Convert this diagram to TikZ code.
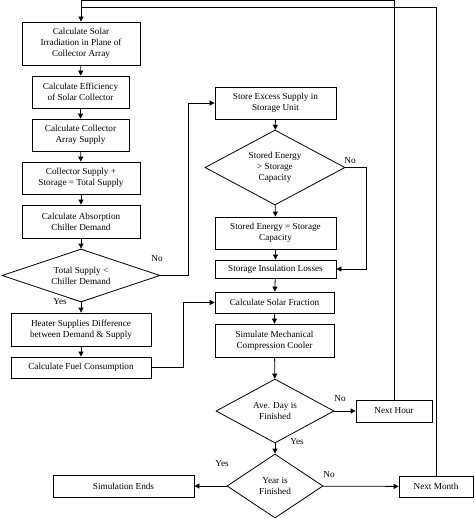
\documentclass[tikz,border=0pt]{standalone}
\usepackage{fontspec}
\setmainfont{Liberation Serif}
\usetikzlibrary{shapes.geometric,arrows.meta}
\begin{document}
\begin{tikzpicture}[x=1pt,y=-1pt,
  every node/.style={font=\fontsize{9.2}{11}\selectfont},
  box/.style={draw,line width=0.8pt,rectangle,inner sep=1pt,align=center,anchor=center},
  dia/.style={draw,line width=0.8pt,diamond,inner sep=0pt,align=center,anchor=center},
  conn/.style={line width=0.8pt,-{Triangle[length=5pt,width=5pt]}},
  plain/.style={line width=0.8pt},
  lbl/.style={inner sep=0pt}]
\useasboundingbox (0,0) rectangle (474,519);
% left column
\node[box,minimum width=118pt,minimum height=43pt] (b1) at (81,43.5) {Calculate Solar\\Irradiation in Plane of\\Collector Array};
\node[box,minimum width=97pt,minimum height=32pt] (b2) at (80.5,92) {Calculate Efficiency\\of Solar Collector};
\node[box,minimum width=97pt,minimum height=32pt] (b3) at (80.5,135) {Calculate Collector\\Array Supply};
\node[box,minimum width=118pt,minimum height=32pt] (b4) at (81,178) {Collector Supply +\\Storage = Total Supply};
\node[box,minimum width=118pt,minimum height=33pt] (b5) at (81,221.5) {Calculate Absorption\\Chiller Demand};
\node[dia,aspect=3,minimum width=158pt,minimum height=53pt] (d1) at (81,275.5) {Total Supply <\\Chiller Demand};
\node[box,minimum width=140pt,minimum height=33pt] (b6) at (81,329.5) {Heater Supplies Difference\\between Demand \& Supply};
\node[box,minimum width=140pt,minimum height=21pt] (b7) at (81,367.5) {Calculate Fuel Consumption};
% middle column
\node[box,minimum width=121pt,minimum height=32pt] (st) at (275.5,103) {Store Excess Supply in\\Storage Unit};
\node[dia,aspect=1.87,minimum width=140pt,minimum height=75pt] (d2) at (275,167.5) {Stored Energy\\> Storage\\Capacity};
\node[box,minimum width=121pt,minimum height=32pt] (se) at (275.5,233) {Stored Energy = Storage\\Capacity};
\node[box,minimum width=121pt,minimum height=18pt] (sil) at (275.5,269) {Storage Insulation Losses};
\node[box,minimum width=119pt,minimum height=21pt] (csf) at (274.5,302.5) {Calculate Solar Fraction};
\node[box,minimum width=119pt,minimum height=33pt] (smc) at (274.5,340.5) {Simulate Mechanical\\Compression Cooler};
\node[dia,aspect=1.84,minimum width=118pt,minimum height=64pt] (d3) at (275,411) {Ave. Day is\\Finished};
\node[dia,aspect=1.5,minimum width=96pt,minimum height=64pt] (d4) at (275,486) {Year is\\Finished};
% right / bottom
\node[box,minimum width=76pt,minimum height=22pt] (nh) at (394,411) {Next Hour};
\node[box,minimum width=74pt,minimum height=21pt] (nm) at (436,486.5) {Next Month};
\node[box,minimum width=141pt,minimum height=22pt] (send) at (123.5,486) {Simulation Ends};
% helper coordinates
\coordinate (tA) at (81,0.6);
\coordinate (tB) at (81,7);
\coordinate (r1) at (188,103);
\coordinate (r2) at (183,302.5);
\coordinate (r3) at (366,167.5);
% connectors
\draw[conn] (nh.north) |- (tA) -- (b1.north);
\draw[plain] (nm.north) |- (tB);
\draw[conn] (b1) -- (b2);
\draw[conn] (b2) -- (b3);
\draw[conn] (b3) -- (b4);
\draw[conn] (b4) -- (b5);
\draw[conn] (b5) -- (d1);
\draw[conn] (d1) -- (b6);
\draw[conn] (b6) -- (b7);
\draw[conn] (d1.east) -| (r1) -- (st.west);
\draw[conn] (b7.east) -| (r2) -- (csf.west);
\draw[conn] (st) -- (d2);
\draw[conn] (d2) -- (se);
\draw[conn] (d2.east) -- (r3) |- (sil.east);
\draw[conn] (se) -- (sil);
\draw[conn] (sil) -- (csf);
\draw[conn] (csf) -- (smc);
\draw[conn] (smc) -- (d3);
\draw[conn] (d3) -- (nh);
\draw[conn] (d3) -- (d4);
\draw[conn] (d4) -- (send);
\draw[conn] (d4) -- (nm);
% labels
\node[lbl] (l1) at (157,259) {No};
\node[lbl] (l2) at (60,302) {Yes};
\node[lbl] (l3) at (350,161) {No};
\node[lbl] (l4) at (340,399) {No};
\node[lbl] (l5) at (297,442) {Yes};
\node[lbl] (l6) at (222,464) {Yes};
\node[lbl] (l7) at (329,475) {No};
\end{tikzpicture}
\end{document}
